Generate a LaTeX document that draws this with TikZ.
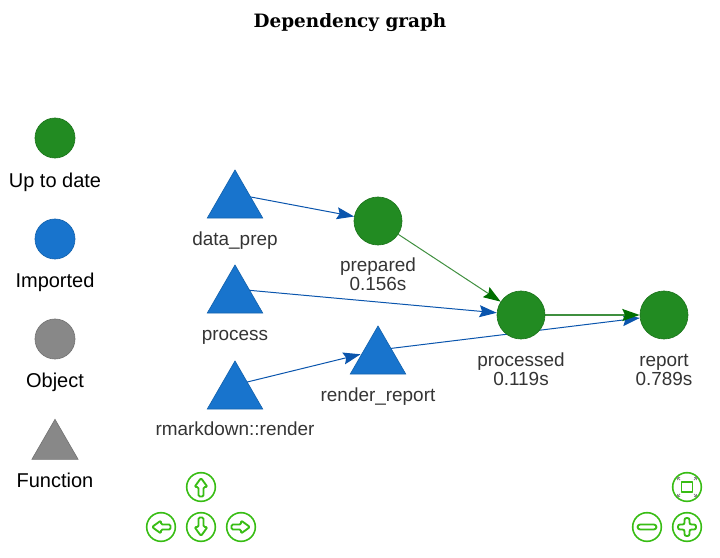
\documentclass[tikz,border=0pt]{standalone}
\usepackage{fontspec}
\setmainfont{Liberation Sans}
\newfontfamily\titlefont{DejaVu Serif}
\usetikzlibrary{shapes.geometric,arrows.meta,backgrounds}
\definecolor{fgreen}{HTML}{228B22}
\definecolor{dgreen}{HTML}{006F00}
\definecolor{lgreen}{HTML}{3F8F3F}
\definecolor{iblue}{HTML}{1874CD}
\definecolor{eblue}{HTML}{0A55AD}
\definecolor{ogrey}{HTML}{888888}
\definecolor{txt}{HTML}{343434}
\definecolor{nav}{HTML}{38BD14}
\tikzset{
  x=0.75pt,y=-0.75pt,
  gcircle/.style={circle,draw=#1!85!black,fill=#1,line width=0.5pt,inner sep=0pt,minimum size=36pt},
  lcircle/.style={circle,draw=#1!85!black,fill=#1,line width=0.5pt,inner sep=0pt,minimum size=30pt},
  gtri/.style={regular polygon,regular polygon sides=3,draw=#1!85!black,fill=#1,line width=0.5pt,inner sep=0pt,minimum size=48pt},
  ltri/.style={regular polygon,regular polygon sides=3,draw=#1!85!black,fill=#1,line width=0.5pt,inner sep=0pt,minimum size=40pt},
  glabel/.style={font=\fontsize{14.2pt}{14.2pt}\selectfont,text=txt,align=center,inner sep=0pt},
  slabel/.style={font=\fontsize{14.2pt}{14.2pt}\selectfont,text=txt,anchor=base,inner sep=0pt},
  llabel/.style={font=\fontsize{15pt}{17pt}\selectfont,text=black,anchor=base,inner sep=0pt},
  bedge/.style={draw=eblue,line width=0.75pt,-{Stealth[length=13pt,width=9pt,inset=2pt]}},
  gedge/.style={draw=lgreen,line width=0.75pt,-{Stealth[length=13pt,width=9pt,inset=2pt,color=dgreen]}},
  navbtn/.style={circle,draw=nav,line width=1.2pt,fill=white,inner sep=0pt,minimum size=21.5pt},
  glyph/.style={draw=nav,line width=1.4pt,line join=round},
}
\begin{document}
\begin{tikzpicture}
\useasboundingbox (0,0) rectangle (720,557);
\node[font=\titlefont\bfseries\fontsize{13.8pt}{16pt}\selectfont,inner sep=0pt] (title) at (350,23) {Dependency graph};
% legend
\node[lcircle=fgreen] (l1) at (55,138) {};
\node[llabel] (l1t) at (55,187) {Up to date};
\node[lcircle=iblue] (l2) at (55,239) {};
\node[llabel] (l2t) at (55,287) {Imported};
\node[lcircle=ogrey] (l3) at (55,339) {};
\node[llabel] (l3t) at (55,387) {Object};
\node[ltri=ogrey] (l4) at (55,446) {};
\node[llabel] (l4t) at (55,487) {Function};
% graph
\node[gtri=iblue] (dp) at (235,202) {};
\node[gtri=iblue] (pc) at (235,297) {};
\node[gtri=iblue] (rm) at (235,393) {};
\node[gtri=iblue] (rr) at (378,358) {};
\node[gcircle=fgreen] (pr) at (378,221) {};
\node[gcircle=fgreen] (ps) at (521,315) {};
\node[gcircle=fgreen] (rp) at (664,315) {};
\node[slabel] (dpt) at (235,245) {data\_prep};
\node[slabel] (pct) at (235,340) {process};
\node[slabel] (rmt) at (235,435) {rmarkdown::render};
\node[slabel] (rrt) at (378,401) {render\_report};
\node[glabel] (prt) at (378,274.5) {prepared\\0.156s};
\node[glabel] (pst) at (521,369.5) {processed\\0.119s};
\node[glabel] (rpt) at (664,369.5) {report\\0.789s};
\begin{pgfonlayer}{background}
\draw[bedge] ([yshift=6pt]dp.center) -- (pr);
\draw[bedge] ([yshift=6pt]pc.center) -- (ps);
\draw[bedge,shorten >=13.5pt] ([yshift=6pt]rm.center) -- ([yshift=6pt]rr.center);
\draw[bedge] ([yshift=6pt]rr.center) -- (rp);
\draw[gedge] (pr) -- (ps);
\draw[gedge,line width=1.2pt] (ps) -- (rp);
\end{pgfonlayer}
% navigation
\node[navbtn] (up) at (201,487) {};
\node[navbtn] (lf) at (161,527) {};
\node[navbtn] (dn) at (201,527) {};
\node[navbtn] (rt) at (241,527) {};
\node[navbtn] (zx) at (687,487) {};
\node[navbtn] (zm) at (647,527) {};
\node[navbtn] (zp) at (687,527) {};
\foreach \n/\r in {up/0,rt/270,dn/180,lf/90}{
  \draw[glyph,rounded corners=1pt,shift={(\n.center)},rotate=\r] (0,-9)--(6.5,0)--(2.5,0)--(2.5,9.5)--(-2.5,9.5)--(-2.5,0)--(-6.5,0)--cycle;
}
\draw[glyph,rounded corners=2pt,shift={(zm.center)}] (-9.5,-2.5) rectangle (9.5,2.5);
\draw[glyph,rounded corners=1.5pt,shift={(zp.center)}] (-2.5,-9)--(2.5,-9)--(2.5,-2.5)--(9,-2.5)--(9,2.5)--(2.5,2.5)--(2.5,9)--(-2.5,9)--(-2.5,2.5)--(-9,2.5)--(-9,-2.5)--(-2.5,-2.5)--cycle;
\draw[glyph,shift={(zx.center)}] (-5.5,-5) rectangle (5.5,5);
\foreach \sx/\sy in {-1/-1,1/-1,-1/1,1/1}{
  \draw[draw=ogrey,line width=0.7pt,shift={(zx.center)}] (\sx*7,\sy*7)--(\sx*9.5,\sy*9.5) (\sx*9.5,\sy*7)--(\sx*9.5,\sy*9.5)--(\sx*7,\sy*9.5);
}
\end{tikzpicture}
\end{document}
